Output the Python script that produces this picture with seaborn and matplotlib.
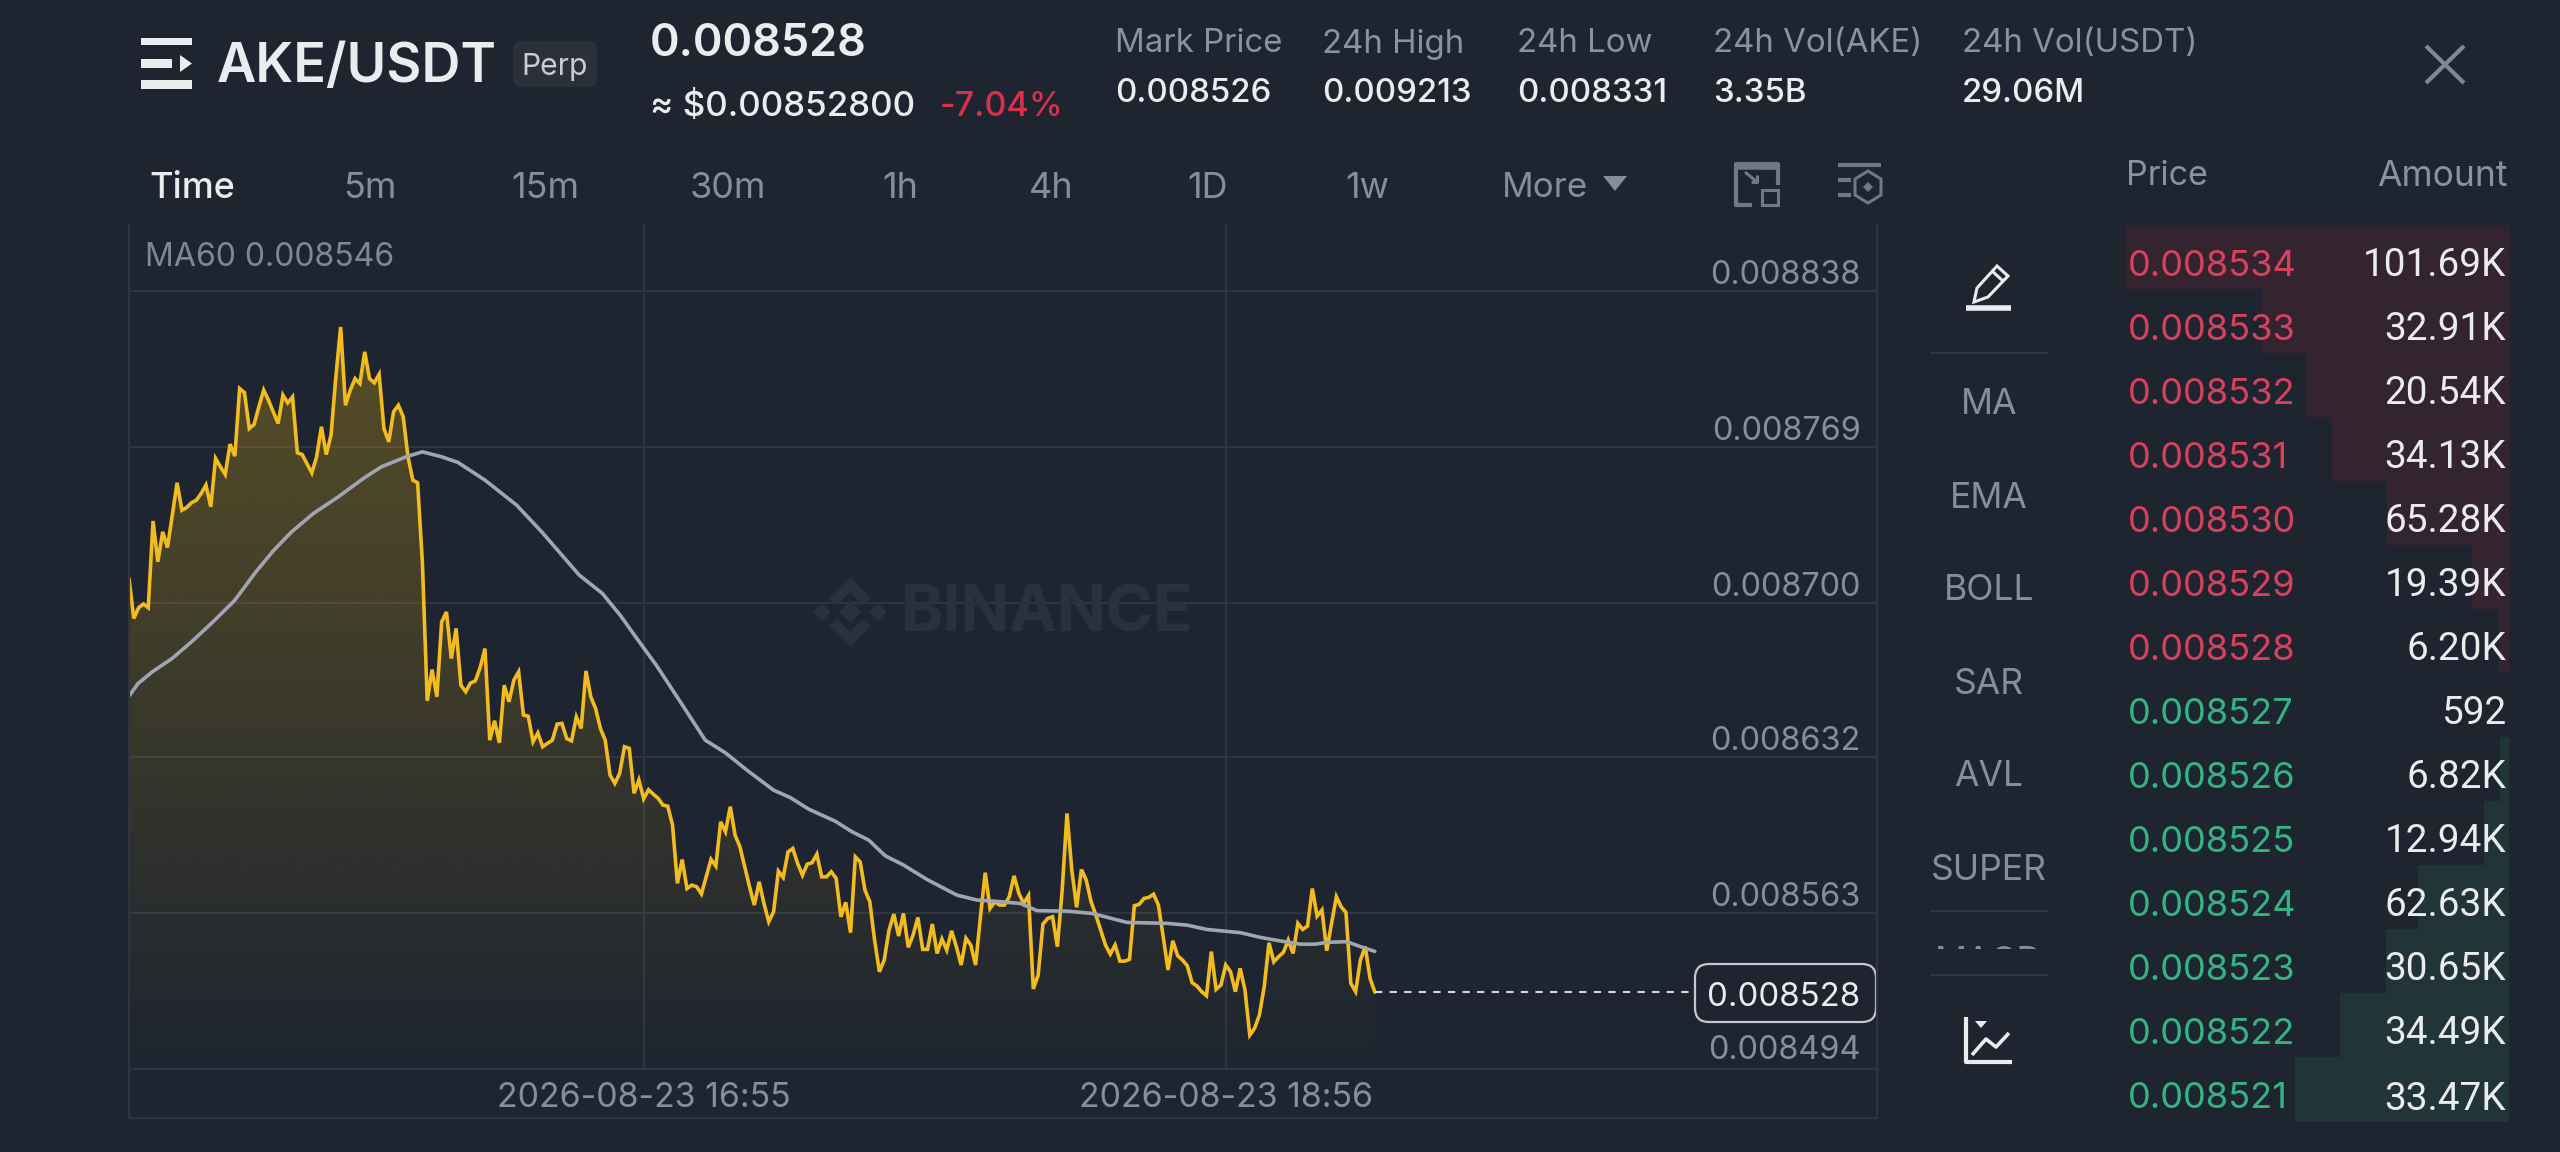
import numpy as np
import pandas as pd
import seaborn as sns
import matplotlib
matplotlib.use("Agg")
import matplotlib.pyplot as plt
from matplotlib.lines import Line2D
from matplotlib.patches import FancyBboxPatch, Polygon, Rectangle

# ---------- data (prices in millionths of USDT, per one-minute step) ----------
price_micro = [
 8710.9,8693.2,8698.0,8699.6,8698.0,8736.3,8718.3,8731.5,8724.6,8739.0,
 8753.2,8741.1,8742.3,8744.4,8745.5,8748.5,8752.2,8742.6,8764.0,8760.3,
 8756.9,8770.3,8765.0,8794.9,8793.1,8777.2,8779.0,8786.8,8794.2,8789.7,
 8784.6,8779.4,8792.0,8788.5,8791.2,8766.5,8765.7,8761.7,8757.6,8764.7,
 8778.0,8765.7,8774.3,8800.0,8822.1,8787.5,8794.2,8799.3,8797.1,8811.1,
 8799.3,8797.4,8801.2,8777.2,8771.3,8784.6,8787.5,8782.4,8764.7,8754.4,
 8753.2,8717.5,8656.8,8670.6,8658.6,8691.7,8696.1,8675.5,8688.8,8663.7,
 8660.8,8664.7,8665.6,8671.5,8679.9,8639.4,8648.0,8638.2,8663.7,8656.4,
 8665.9,8669.6,8650.5,8650.0,8638.7,8642.6,8636.5,8638.0,8639.4,8646.5,
 8646.8,8640.1,8639.1,8649.7,8644.6,8670.0,8658.6,8653.4,8644.6,8639.4,
 8624.0,8620.3,8624.7,8636.5,8635.8,8615.9,8621.8,8613.5,8617.5,8615.5,
 8613.7,8610.7,8610.2,8601.8,8576.1,8586.6,8573.8,8575.3,8574.6,8571.4,
 8579.0,8586.7,8583.7,8603.3,8598.9,8610.0,8597.4,8592.3,8583.4,8574.6,
 8566.5,8576.8,8567.2,8559.1,8563.5,8581.5,8578.7,8590.0,8591.5,8584.9,
 8579.7,8584.6,8585.2,8589.0,8579.0,8579.0,8581.2,8578.3,8561.3,8567.7,
 8554.3,8587.8,8585.6,8573.1,8568.0,8551.0,8537.0,8542.2,8555.4,8562.5,
 8552.8,8562.8,8547.8,8553.2,8561.0,8546.9,8546.9,8558.1,8545.1,8551.5,
 8546.6,8555.1,8548.1,8540.0,8551.8,8548.8,8540.0,8561.3,8580.8,8565.0,
 8568.0,8566.5,8566.5,8570.2,8579.4,8571.6,8567.2,8570.7,8529.4,8535.5,
 8558.1,8560.6,8561.3,8548.1,8573.1,8607.0,8582.0,8565.5,8582.2,8577.5,
 8568.0,8562.1,8555.4,8548.8,8544.8,8548.8,8541.7,8541.7,8542.5,8566.2,
 8566.8,8569.4,8569.9,8571.3,8566.5,8552.5,8537.8,8550.7,8544.1,8542.2,
 8539.7,8532.2,8530.7,8528.2,8526.4,8545.9,8529.2,8531.1,8540.0,8537.0,
 8528.2,8538.5,8528.9,8509.0,8512.0,8517.9,8530.4,8549.8,8541.4,8543.7,
 8545.6,8551.0,8545.1,8558.4,8555.7,8557.2,8573.8,8561.6,8564.3,8546.3,
 8558.4,8570.2,8565.7,8563.2,8531.9,8528.2,8542.2,8548.1,8534.1,8528.0]

ma_minute = [0,1.9,4.9,9,13,17.5,22,26.4,30.1,33.8,38.3,43.5,48.7,52.4,57.6,61,65,68.4,74,80.6,
             85.8,93.6,98.4,102.1,105.8,109.6,114.6,119.8,124,128.5,134,137.5,141.3,146.8,150.3,
             153.8,157.2,161,165.9,172.1,176.3,181.1,185.3,188.8,195,200.2,207.5,215.8,220,224.1,
             231,235.2,239.4,243.5,246.6,249,253.2,256,259]
ma_micro = [8658.9,8664.5,8669.7,8675.6,8682.9,8691.8,8701.3,8713.9,8723.4,8731.5,8739.6,8747.0,
            8755.1,8760.2,8764.7,8766.9,8764.7,8762.2,8754.4,8743.3,8731.5,8712.4,8704.3,8694.7,
            8683.7,8672.6,8656.4,8639.4,8633.8,8626.1,8617.3,8614.0,8608.9,8603.6,8598.9,8595.2,
            8588.3,8584.2,8577.8,8570.9,8568.7,8568.0,8567.2,8564.0,8563.8,8562.8,8558.8,8558.4,
            8557.6,8555.7,8554.3,8552.2,8550.6,8549.2,8549.2,8550.0,8550.3,8548.1,8546.0]

y_ticks = [0.008838,0.008769,0.008700,0.008632,0.008563,0.008494]
y_tick_labels = ["0.008838","0.008769","0.008700","0.008632","0.008563","0.008494"]
x_tick_minutes = [107,228]
x_tick_labels = ["2026-08-23 16:55","2026-08-23 18:56"]

book_prices = ["0.008534","0.008533","0.008532","0.008531","0.008530","0.008529","0.008528",
               "0.008527","0.008526","0.008525","0.008524","0.008523","0.008522","0.008521"]
book_amounts = ["101.69K","32.91K","20.54K","34.13K","65.28K","19.39K","6.20K",
                "592","6.82K","12.94K","62.63K","30.65K","34.49K","33.47K"]
book_depth = [100,64.5,53.3,46.2,31.9,9.7,2.6, 0,2.3,6.5,23.8,32.1,44.1,55.9]
book_side = ["ask"]*7 + ["bid"]*7

header_labels = ["Mark Price","24h High","24h Low","24h Vol(AKE)","24h Vol(USDT)"]
header_values = ["0.008526","0.009213","0.008331","3.35B","29.06M"]
timeframes = ["5m","15m","30m","1h","4h","1D","1w"]
indicators = ["MA","EMA","BOLL","SAR","AVL","SUPER"]

# ---------- style ----------
BG="#1E2530"; GRID="#2E3541"; WHITE="#EAECEF"; GRAY="#848E9C"; YEL="#F0B90B"
RED="#D8415C"; GREEN="#32B583"
sns.set_theme(style="dark", rc={"figure.facecolor":BG,"axes.facecolor":BG,"savefig.facecolor":BG})
plt.rcParams['font.family'] = ['Inter','Noto Sans','DejaVu Sans']

W,H=2560,1152
fig=plt.figure(figsize=(W/100,H/100),dpi=100)
def axpx(l,t,r,b,**k):
    return fig.add_axes([l/W,1-b/H,(r-l)/W,(b-t)/H],**k)

# ---------- main chart ----------
ax=axpx(129,225,1878,1069)
ax.set_facecolor(BG)
minutes=np.arange(len(price_micro))
df=pd.DataFrame({"minute":minutes,"price":np.array(price_micro)*1e-6})
dma=pd.DataFrame({"minute":ma_minute,"ma":np.array(ma_micro)*1e-6})
XLIM=(0,363.6); YLIM=(0.008494,0.0088672)

top=df.price.max()
grad=np.zeros((256,1,4)); grad[...,0]=240/255; grad[...,1]=185/255; grad[...,2]=11/255
grad[...,3]=np.linspace(0.28,0.0,256)[:,None]
im=ax.imshow(grad,extent=[0,df.minute.max(),YLIM[0],top],aspect="auto",origin="upper",zorder=1,interpolation="bilinear")
poly=[(0,YLIM[0])]+list(zip(df.minute,df.price))+[(df.minute.max(),YLIM[0])]
clip=Polygon(poly,closed=True,transform=ax.transData,fc="none",ec="none")
ax.add_patch(clip); im.set_clip_path(clip)

sns.lineplot(data=df,x="minute",y="price",ax=ax,color="#F2BC1E",lw=2.6,zorder=3,errorbar=None,solid_joinstyle="miter")
sns.lineplot(data=dma,x="minute",y="ma",ax=ax,color="#9FA6B2",lw=2.6,zorder=4,errorbar=None)
ax.plot([df.minute.max(),XLIM[1]],[price_micro[-1]*1e-6]*2,color="#D5D8DD",lw=1.5,ls=(0,(3.5,3.5)),zorder=4)

ax.set_xlim(*XLIM); ax.set_ylim(*YLIM)
ax.set_yticks(y_ticks); ax.set_yticklabels([])
ax.set_xticks(x_tick_minutes); ax.set_xticklabels(x_tick_labels,color=GRAY,fontsize=24.4)
ax.tick_params(axis="x",length=0,pad=9.5); ax.tick_params(axis="y",length=0)
ax.set_xlabel(""); ax.set_ylabel("")
ax.grid(True,color=GRID,lw=1.6,zorder=0); ax.set_axisbelow(True)
for s in ax.spines.values(): s.set_visible(False)
ax.spines["bottom"].set_visible(True); ax.spines["bottom"].set_color(GRID); ax.spines["bottom"].set_linewidth(1.6)
for t,l in zip(y_ticks,y_tick_labels):
    off = 2.5 if l=="0.008494" else 0
    ax.annotate(l,xy=(1,t),xycoords=("axes fraction","data"),xytext=(-12.5,off),textcoords="offset points",
                ha="right",va="bottom",color=GRAY,fontsize=23.4,zorder=6)

# ---------- order-book depth ----------
axb=axpx(2000,224.5,2509,1121.5)
axb.patch.set_alpha(0)
dfb=pd.DataFrame({"p":book_prices,"depth":book_depth,"side":book_side})
sns.barplot(data=dfb,x="depth",y="p",hue="side",palette={"ask":"#342430","bid":"#213437"},dodge=False,
            width=1,saturation=1,legend=False,ax=axb,order=book_prices,linewidth=0)
axb.set_xlim(132.9,0); axb.set_ylim(13.5,-0.5); axb.axis("off")

# ---------- UI layer ----------
ui=fig.add_axes([0,0,1,1],zorder=10); ui.patch.set_alpha(0); ui.axis("off")
ui.set_xlim(0,W); ui.set_ylim(H,0)
def T(x,y,s,c=WHITE,px=34,ha="left",w="normal",**k):
    return ui.text(x,y+3,s,color=c,fontsize=px*0.72,ha=ha,va="center",fontweight=w,**k)
def L(xs,ys,c=GRAY,lw=2.2,**k):
    ui.add_line(Line2D(xs,ys,color=c,lw=lw,solid_capstyle=k.pop("cap","butt"),**k))
def P(pts,fc,ec="none",lw=0):
    ui.add_patch(Polygon(pts,closed=True,fc=fc,ec=ec,lw=lw))

# chart frame
L([129,129],[225,1118],GRID,1.6); L([1877,1877],[225,1118],GRID,1.6); L([129,1877],[1118,1118],GRID,1.6)

# hamburger icon
for y0,y1,x1 in [(38,45,192),(59,68,172),(80,89,192)]:
    ui.add_patch(Rectangle((141,y0),x1-141,y1-y0,fc=WHITE,ec="none"))
P([(180,55),(192,63.5),(180,72)],WHITE)

T(217,65,"AKE/USDT",WHITE,54,w="semibold")
ui.add_patch(FancyBboxPatch((517,45),76,38,boxstyle="round,pad=0,rounding_size=5",fc="#2A313B",ec="#2A313B",lw=6))
T(555,64,"Perp","#C9CDD3",30,ha="center")
T(650,41,"0.008528",WHITE,45,w="semibold")
T(650,104,"≈ $0.00852800",WHITE,35,w="medium")
T(1063,104,"-7.04%","#D9304E",34,ha="right",w="medium")

for x,a,b in zip([1115,1322,1517,1713,1962],header_labels,header_values):
    T(x,41,a,"#8A929F",33); T(x,91,b,WHITE,33,w="medium")
L([2426,2464],[46,83],"#7F8894",3); L([2426,2464],[83,46],"#7F8894",3)

T(149,185,"Time",WHITE,36,w="medium")
for x,s in zip([370,545,728,900,1051,1208,1367],timeframes):
    T(x,185,s,GRAY,36,ha="center")
T(1502,185,"More",GRAY,35)
P([(1603,176),(1627,176),(1615,191)],GRAY)

# expand icon
L([1778,1778,1736,1736,1752],[185,164,164,205,205],"#6F7885",3)
L([1736,1778],[167,167],"#6F7885",4)
ui.add_patch(Rectangle((1762,190),16,15,fc="none",ec="#6F7885",lw=2.2))
L([1745,1757],[172,182],"#6F7885",2.2); L([1751,1757,1757],[182,182,175],"#6F7885",2.2)
# settings icon
L([1838,1881],[165,165],"#6F7885",3); L([1838,1851],[180,180],"#6F7885",3); L([1838,1851],[195,195],"#6F7885",3)
a=np.deg2rad(np.arange(30,390,60)+0)
P(list(zip(1868+15*np.cos(a),187+16*np.sin(a))),"none","#6F7885",2.2)
P([(1868,182),(1873,187),(1868,192),(1863,187)],"#6F7885")

T(145,254,"MA60 0.008546","#7F8793",32)

# watermark
WM="#2A313C"
T(901,612,"BINANCE",WM,64,w="bold")
cx,cy=850,612
P([(cx-11,cy),(cx,cy-11),(cx+11,cy),(cx,cy+11)],WM)
P([(cx-37,cy),(cx-28,cy-9),(cx-19,cy),(cx-28,cy+9)],WM)
P([(cx+37,cy),(cx+28,cy-9),(cx+19,cy),(cx+28,cy+9)],WM)
P([(cx-21,cy-14),(cx,cy-35),(cx+21,cy-14),(cx+13,cy-7),(cx,cy-20),(cx-13,cy-7)],WM)
P([(cx+21,cy+14),(cx,cy+35),(cx-21,cy+14),(cx-13,cy+7),(cx,cy+20),(cx+13,cy+7)],WM)

# last-price tag
ui.add_patch(FancyBboxPatch((1695,964),181,58,boxstyle="round,pad=0,rounding_size=14",fc=BG,ec="#C4C8CE",lw=1.6))
T(1860,994,"0.008528",WHITE,33,ha="right")

# sidebar
P([(1974,302),(1977,288),(1997,266),(2008,276),(1988,297)],"none",WHITE,2.2)
L([1992,2003],[271,281],WHITE,2.2)
L([1966,2011],[308,308],WHITE,4)
L([1930,2048],[353,353],GRID,1.6); L([1930,2048],[911,911],GRID,1.6); L([1930,2048],[975,975],GRID,1.6)
for y,s in zip([402,495,588,681,774,867],indicators):
    T(1989,y,s,GRAY,35.5,ha="center")
hidden=T(1989,960,"MACD",GRAY,35.5,ha="center")
hidden.set_clip_path(Rectangle((1930,930),118,19,transform=ui.transData))
hidden.set_clip_on(True)
L([1966,1966,2012],[1017,1062,1062],WHITE,3)
L([1972,1986,1996,2009],[1055,1039,1047,1033],WHITE,2.6)
P([(1975,1021),(1987,1021),(1981,1028)],WHITE)

# order book
T(2126,173,"Price","#8A929F",34); T(2508,173,"Amount","#8A929F",35.5,ha="right")
row_y=[263,327,391,455,519,583,647,711,775,839,903,967,1031,1096]
for y,p,a,s in zip(row_y,book_prices,book_amounts,book_side):
    T(2128,y,p,RED if s=="ask" else GREEN,36.2)
    t=T(2506,y,a,WHITE,38.7,ha="right")
    t.set_fontfamily(['Roboto','DejaVu Sans'])

fig.savefig("out.png",dpi=100,facecolor=BG)
